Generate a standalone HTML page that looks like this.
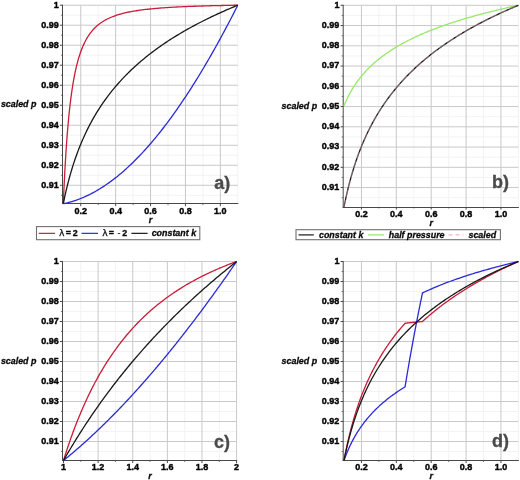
<!DOCTYPE html>
<html><head><meta charset="utf-8"><title>scaled p vs r</title>
<style>
html,body{margin:0;padding:0;background:#fff;}
body{width:520px;height:480px;overflow:hidden;}
svg{display:block;filter:blur(0.4px);}
text{font-family:"Liberation Sans",sans-serif;}
.tk{font-size:9.0px;font-weight:bold;fill:#050505;stroke:#050505;stroke-width:0.4px;}
.lb{font-size:8.9px;font-weight:bold;font-style:italic;fill:#0a0a0a;stroke:#0a0a0a;stroke-width:0.3px;}
.lg{font-size:8.9px;font-weight:bold;fill:#0a0a0a;stroke:#0a0a0a;stroke-width:0.3px;}
.pl{font-size:18px;font-weight:bold;fill:#4a4a4a;stroke:#4a4a4a;stroke-width:0.3px;}
.sym{font-family:"DejaVu Sans","Liberation Sans",sans-serif;font-weight:normal;font-size:9.2px;stroke-width:0.25px;}
.mn{font-weight:normal;stroke-width:0.1px;fill:#333;}
.it{font-style:italic;}
</style></head><body>
<svg width="520" height="480" viewBox="0 0 520 480">
<rect width="520" height="480" fill="#fff"/>
<line x1="98.20" y1="5.20" x2="98.20" y2="203.70" stroke="#f3f3f3" stroke-width="1"/>
<line x1="133.10" y1="5.20" x2="133.10" y2="203.70" stroke="#f3f3f3" stroke-width="1"/>
<line x1="168.00" y1="5.20" x2="168.00" y2="203.70" stroke="#f3f3f3" stroke-width="1"/>
<line x1="202.90" y1="5.20" x2="202.90" y2="203.70" stroke="#f3f3f3" stroke-width="1"/>
<line x1="237.80" y1="5.20" x2="237.80" y2="203.70" stroke="#f3f3f3" stroke-width="1"/>
<line x1="62.50" y1="195.30" x2="237.80" y2="195.30" stroke="#f3f3f3" stroke-width="1"/>
<line x1="62.50" y1="175.29" x2="237.80" y2="175.29" stroke="#f3f3f3" stroke-width="1"/>
<line x1="62.50" y1="155.28" x2="237.80" y2="155.28" stroke="#f3f3f3" stroke-width="1"/>
<line x1="62.50" y1="135.27" x2="237.80" y2="135.27" stroke="#f3f3f3" stroke-width="1"/>
<line x1="62.50" y1="115.26" x2="237.80" y2="115.26" stroke="#f3f3f3" stroke-width="1"/>
<line x1="62.50" y1="95.25" x2="237.80" y2="95.25" stroke="#f3f3f3" stroke-width="1"/>
<line x1="62.50" y1="75.24" x2="237.80" y2="75.24" stroke="#f3f3f3" stroke-width="1"/>
<line x1="62.50" y1="55.23" x2="237.80" y2="55.23" stroke="#f3f3f3" stroke-width="1"/>
<line x1="62.50" y1="35.22" x2="237.80" y2="35.22" stroke="#f3f3f3" stroke-width="1"/>
<line x1="62.50" y1="15.21" x2="237.80" y2="15.21" stroke="#f3f3f3" stroke-width="1"/>
<line x1="80.75" y1="5.20" x2="80.75" y2="203.70" stroke="#c9c9c9" stroke-width="1"/>
<line x1="115.65" y1="5.20" x2="115.65" y2="203.70" stroke="#c9c9c9" stroke-width="1"/>
<line x1="150.55" y1="5.20" x2="150.55" y2="203.70" stroke="#c9c9c9" stroke-width="1"/>
<line x1="185.45" y1="5.20" x2="185.45" y2="203.70" stroke="#c9c9c9" stroke-width="1"/>
<line x1="220.35" y1="5.20" x2="220.35" y2="203.70" stroke="#c9c9c9" stroke-width="1"/>
<line x1="62.50" y1="185.29" x2="237.80" y2="185.29" stroke="#c9c9c9" stroke-width="1"/>
<line x1="62.50" y1="165.28" x2="237.80" y2="165.28" stroke="#c9c9c9" stroke-width="1"/>
<line x1="62.50" y1="145.27" x2="237.80" y2="145.27" stroke="#c9c9c9" stroke-width="1"/>
<line x1="62.50" y1="125.26" x2="237.80" y2="125.26" stroke="#c9c9c9" stroke-width="1"/>
<line x1="62.50" y1="105.25" x2="237.80" y2="105.25" stroke="#c9c9c9" stroke-width="1"/>
<line x1="62.50" y1="85.24" x2="237.80" y2="85.24" stroke="#c9c9c9" stroke-width="1"/>
<line x1="62.50" y1="65.23" x2="237.80" y2="65.23" stroke="#c9c9c9" stroke-width="1"/>
<line x1="62.50" y1="45.22" x2="237.80" y2="45.22" stroke="#c9c9c9" stroke-width="1"/>
<line x1="62.50" y1="25.21" x2="237.80" y2="25.21" stroke="#c9c9c9" stroke-width="1"/>
<line x1="62.50" y1="5.20" x2="237.80" y2="5.20" stroke="#c9c9c9" stroke-width="1"/>
<line x1="62.50" y1="4.70" x2="62.50" y2="204.00" stroke="#484848" stroke-width="1"/>
<line x1="62.00" y1="203.50" x2="238.30" y2="203.50" stroke="#484848" stroke-width="1"/>
<line x1="59.90" y1="185.29" x2="62.50" y2="185.29" stroke="#484848" stroke-width="1"/>
<text x="58.70" y="187.59" text-anchor="end" class="tk">0.91</text>
<line x1="60.90" y1="195.30" x2="62.50" y2="195.30" stroke="#484848" stroke-width="0.7"/>
<line x1="59.90" y1="165.28" x2="62.50" y2="165.28" stroke="#484848" stroke-width="1"/>
<text x="58.70" y="167.58" text-anchor="end" class="tk">0.92</text>
<line x1="60.90" y1="175.29" x2="62.50" y2="175.29" stroke="#484848" stroke-width="0.7"/>
<line x1="59.90" y1="145.27" x2="62.50" y2="145.27" stroke="#484848" stroke-width="1"/>
<text x="58.70" y="147.57" text-anchor="end" class="tk">0.93</text>
<line x1="60.90" y1="155.28" x2="62.50" y2="155.28" stroke="#484848" stroke-width="0.7"/>
<line x1="59.90" y1="125.26" x2="62.50" y2="125.26" stroke="#484848" stroke-width="1"/>
<text x="58.70" y="127.56" text-anchor="end" class="tk">0.94</text>
<line x1="60.90" y1="135.27" x2="62.50" y2="135.27" stroke="#484848" stroke-width="0.7"/>
<line x1="59.90" y1="105.25" x2="62.50" y2="105.25" stroke="#484848" stroke-width="1"/>
<text x="58.70" y="107.55" text-anchor="end" class="tk">0.95</text>
<line x1="60.90" y1="115.26" x2="62.50" y2="115.26" stroke="#484848" stroke-width="0.7"/>
<line x1="59.90" y1="85.24" x2="62.50" y2="85.24" stroke="#484848" stroke-width="1"/>
<text x="58.70" y="87.54" text-anchor="end" class="tk">0.96</text>
<line x1="60.90" y1="95.25" x2="62.50" y2="95.25" stroke="#484848" stroke-width="0.7"/>
<line x1="59.90" y1="65.23" x2="62.50" y2="65.23" stroke="#484848" stroke-width="1"/>
<text x="58.70" y="67.53" text-anchor="end" class="tk">0.97</text>
<line x1="60.90" y1="75.24" x2="62.50" y2="75.24" stroke="#484848" stroke-width="0.7"/>
<line x1="59.90" y1="45.22" x2="62.50" y2="45.22" stroke="#484848" stroke-width="1"/>
<text x="58.70" y="47.52" text-anchor="end" class="tk">0.98</text>
<line x1="60.90" y1="55.23" x2="62.50" y2="55.23" stroke="#484848" stroke-width="0.7"/>
<line x1="59.90" y1="25.21" x2="62.50" y2="25.21" stroke="#484848" stroke-width="1"/>
<text x="58.70" y="27.51" text-anchor="end" class="tk">0.99</text>
<line x1="60.90" y1="35.22" x2="62.50" y2="35.22" stroke="#484848" stroke-width="0.7"/>
<line x1="59.90" y1="5.20" x2="62.50" y2="5.20" stroke="#484848" stroke-width="1"/>
<text x="58.70" y="7.50" text-anchor="end" class="tk">1</text>
<line x1="60.90" y1="15.21" x2="62.50" y2="15.21" stroke="#484848" stroke-width="0.7"/>
<line x1="80.75" y1="203.70" x2="80.75" y2="206.20" stroke="#484848" stroke-width="1"/>
<text x="80.75" y="213.50" text-anchor="middle" class="tk">0.2</text>
<line x1="115.65" y1="203.70" x2="115.65" y2="206.20" stroke="#484848" stroke-width="1"/>
<text x="115.65" y="213.50" text-anchor="middle" class="tk">0.4</text>
<line x1="150.55" y1="203.70" x2="150.55" y2="206.20" stroke="#484848" stroke-width="1"/>
<text x="150.55" y="213.50" text-anchor="middle" class="tk">0.6</text>
<line x1="185.45" y1="203.70" x2="185.45" y2="206.20" stroke="#484848" stroke-width="1"/>
<text x="185.45" y="213.50" text-anchor="middle" class="tk">0.8</text>
<line x1="220.35" y1="203.70" x2="220.35" y2="206.20" stroke="#484848" stroke-width="1"/>
<text x="220.35" y="213.50" text-anchor="middle" class="tk">1.0</text>
<line x1="98.20" y1="203.70" x2="98.20" y2="205.20" stroke="#484848" stroke-width="0.7"/>
<line x1="133.10" y1="203.70" x2="133.10" y2="205.20" stroke="#484848" stroke-width="0.7"/>
<line x1="168.00" y1="203.70" x2="168.00" y2="205.20" stroke="#484848" stroke-width="0.7"/>
<line x1="202.90" y1="203.70" x2="202.90" y2="205.20" stroke="#484848" stroke-width="0.7"/>
<text x="0.90" y="106.95" class="lb">scaled p</text>
<text x="150.55" y="222.70" text-anchor="middle" class="lb">r</text>
<text x="214.20" y="188.70" class="pl">a)</text>
<polyline points="63.30,203.70 63.78,192.66 64.27,182.25 64.77,172.45 65.26,163.64 65.29,163.21 65.82,154.50 66.36,146.28 66.92,138.52 67.22,134.64 67.50,131.21 68.09,124.30 68.70,117.78 69.18,112.93 69.32,111.62 69.96,105.80 70.62,100.30 71.14,96.25 71.30,95.11 71.99,90.20 72.70,85.56 73.10,83.13 73.44,81.18 74.19,77.03 74.96,73.11 75.06,72.63 75.76,69.41 76.58,65.90 77.02,64.10 77.42,62.58 78.28,59.45 78.99,57.06 79.16,56.48 80.07,53.67 80.95,51.18 81.01,51.01 81.97,48.50 82.91,46.23 82.95,46.12 83.97,43.87 84.87,42.02 85.01,41.74 86.08,39.72 86.83,38.40 87.18,37.81 88.31,36.00 88.79,35.27 89.46,34.29 90.66,32.67 90.75,32.55 91.88,31.14 92.71,30.16 93.14,29.68 94.43,28.31 94.67,28.06 95.75,27.01 96.63,26.20 97.12,25.77 98.52,24.60 98.59,24.54 99.96,23.50 100.55,23.06 101.43,22.45 102.51,21.74 102.95,21.46 104.47,20.54 104.51,20.52 106.11,19.63 106.43,19.46 107.76,18.79 108.40,18.48 109.45,17.99 110.36,17.59 111.19,17.23 112.32,16.77 112.97,16.52 114.28,16.03 114.80,15.84 116.24,15.34 116.69,15.20 118.20,14.72 118.62,14.59 120.16,14.14 120.61,14.01 122.12,13.60 122.65,13.47 124.08,13.11 124.38,13.04 124.75,12.95 126.04,12.65 126.90,12.46 128.00,12.22 129.11,11.99 129.96,11.83 131.39,11.55 131.92,11.46 133.72,11.14 133.88,11.11 135.84,10.79 136.12,10.74 137.81,10.49 138.59,10.37 139.77,10.20 141.12,10.02 141.73,9.93 141.82,9.92 143.69,9.68 143.72,9.68 145.65,9.45 146.40,9.36 147.61,9.23 149.14,9.06 149.57,9.02 151.53,8.82 151.96,8.78 153.49,8.63 154.86,8.51 155.45,8.45 157.41,8.28 157.84,8.25 159.37,8.12 160.90,8.01 161.33,7.97 163.29,7.83 164.04,7.78 165.26,7.69 167.22,7.56 167.26,7.56 169.18,7.44 170.58,7.35 171.14,7.32 173.10,7.21 173.99,7.16 175.06,7.10 177.02,7.00 177.49,6.97 178.98,6.90 180.94,6.80 181.08,6.80 182.90,6.71 184.77,6.63 184.86,6.63 186.82,6.54 188.57,6.47 188.78,6.46 190.74,6.39 192.46,6.32 192.70,6.31 194.67,6.24 196.47,6.18 196.63,6.18 198.59,6.11 200.55,6.05 200.58,6.05 202.51,5.99 204.47,5.93 204.81,5.92 206.43,5.87 208.39,5.82 209.15,5.80 210.35,5.77 212.31,5.72 213.61,5.69 214.27,5.67 216.23,5.62 218.19,5.58 218.19,5.58 220.15,5.53 222.11,5.49 222.90,5.48 224.08,5.45 226.04,5.41 227.73,5.38 228.00,5.37 229.96,5.34 231.92,5.30 232.70,5.29 233.88,5.27 235.84,5.23 237.80,5.20" fill="none" stroke="#c81c38" stroke-width="1.3" stroke-linejoin="round"/>
<polyline points="63.30,203.70 63.78,203.60 64.27,203.50 64.77,203.39 65.26,203.29 65.29,203.28 65.82,203.16 66.36,203.03 66.92,202.90 67.22,202.83 67.50,202.76 68.09,202.61 68.70,202.45 69.18,202.33 69.32,202.29 69.96,202.11 70.62,201.93 71.14,201.78 71.30,201.74 71.99,201.53 72.70,201.31 73.10,201.19 73.44,201.09 74.19,200.84 74.96,200.59 75.06,200.56 75.76,200.32 76.58,200.04 77.02,199.88 77.42,199.74 78.28,199.42 78.99,199.16 79.16,199.09 80.07,198.74 80.95,198.39 81.01,198.37 81.97,197.98 82.91,197.59 82.95,197.56 83.97,197.13 84.87,196.73 85.01,196.67 86.08,196.19 86.83,195.84 87.18,195.67 88.31,195.13 88.79,194.90 89.46,194.57 90.66,193.97 90.75,193.92 91.88,193.33 92.71,192.89 93.14,192.66 94.43,191.96 94.67,191.82 95.75,191.21 96.63,190.71 97.12,190.43 98.52,189.60 98.59,189.56 99.96,188.73 100.55,188.36 101.43,187.81 102.51,187.12 102.95,186.84 104.47,185.84 104.51,185.81 106.11,184.73 106.43,184.51 107.76,183.59 108.40,183.14 109.45,182.39 110.36,181.73 111.19,181.12 112.32,180.28 112.97,179.78 114.28,178.78 114.80,178.37 116.24,177.24 116.69,176.89 118.20,175.66 118.62,175.32 120.16,174.04 120.61,173.66 122.12,172.38 122.65,171.92 124.08,170.67 124.38,170.41 124.75,170.08 126.04,168.92 126.90,168.14 128.00,167.13 129.11,166.10 129.96,165.30 131.39,163.95 131.92,163.43 133.72,161.68 133.88,161.52 135.84,159.57 136.12,159.29 137.81,157.57 138.59,156.76 139.77,155.54 141.12,154.11 141.73,153.46 141.82,153.35 143.69,151.34 143.72,151.30 145.65,149.19 146.40,148.35 147.61,146.99 149.14,145.24 149.57,144.75 151.53,142.47 151.96,141.97 153.49,140.16 154.86,138.52 155.45,137.80 157.41,135.40 157.84,134.88 159.37,132.97 160.90,131.05 161.33,130.49 163.29,127.98 164.04,127.02 165.26,125.43 167.22,122.84 167.26,122.77 169.18,120.21 170.58,118.30 171.14,117.54 173.10,114.83 173.99,113.59 175.06,112.09 177.02,109.30 177.49,108.64 178.98,106.48 180.94,103.63 181.08,103.42 182.90,100.73 184.77,97.93 184.86,97.80 186.82,94.83 188.57,92.16 188.78,91.82 190.74,88.78 192.46,86.08 192.70,85.70 194.67,82.59 196.47,79.69 196.63,79.43 198.59,76.25 200.55,73.02 200.58,72.96 202.51,69.76 204.47,66.47 204.81,65.89 206.43,63.14 208.39,59.77 209.15,58.46 210.35,56.37 212.31,52.93 213.61,50.64 214.27,49.47 216.23,45.96 218.19,42.43 218.19,42.42 220.15,38.85 222.11,35.24 222.90,33.80 224.08,31.60 226.04,27.93 227.73,24.73 228.00,24.22 229.96,20.49 231.92,16.71 232.70,15.20 233.88,12.91 235.84,9.07 237.80,5.20" fill="none" stroke="#2a2ad8" stroke-width="1.3" stroke-linejoin="round"/>
<polyline points="63.30,203.70 63.78,201.35 64.27,199.00 64.77,196.65 65.26,194.42 65.29,194.31 65.82,191.97 66.36,189.64 66.92,187.30 67.22,186.08 67.50,184.97 68.09,182.64 68.70,180.32 69.18,178.51 69.32,178.00 69.96,175.68 70.62,173.36 71.14,171.57 71.30,171.05 71.99,168.74 72.70,166.43 73.10,165.17 73.44,164.13 74.19,161.83 74.96,159.53 75.06,159.24 75.76,157.24 76.58,154.94 77.02,153.71 77.42,152.65 78.28,150.37 78.99,148.54 79.16,148.08 80.07,145.80 80.95,143.67 81.01,143.52 81.97,141.25 82.91,139.08 82.95,138.97 83.97,136.70 84.87,134.74 85.01,134.44 86.08,132.17 86.83,130.62 87.18,129.91 88.31,127.65 88.79,126.70 89.46,125.39 90.66,123.14 90.75,122.97 91.88,120.89 92.71,119.40 93.14,118.64 94.43,116.39 94.67,115.98 95.75,114.15 96.63,112.70 97.12,111.91 98.52,109.67 98.59,109.56 99.96,107.44 100.55,106.53 101.43,105.21 102.51,103.61 102.95,102.98 104.47,100.80 104.51,100.75 106.11,98.52 106.43,98.08 107.76,96.30 108.40,95.46 109.45,94.08 110.36,92.92 111.19,91.87 112.32,90.45 112.97,89.65 114.28,88.07 114.80,87.44 116.24,85.75 116.69,85.23 118.20,83.50 118.62,83.02 120.16,81.31 120.61,80.82 122.12,79.18 122.65,78.62 124.08,77.11 124.38,76.80 124.75,76.42 126.04,75.09 126.90,74.22 128.00,73.12 129.11,72.03 129.96,71.20 131.39,69.84 131.92,69.33 133.72,67.65 133.88,67.50 135.84,65.71 136.12,65.46 137.81,63.96 138.59,63.27 139.77,62.25 141.12,61.09 141.73,60.58 141.82,60.50 143.69,58.94 143.72,58.91 145.65,57.34 146.40,56.74 147.61,55.77 149.14,54.56 149.57,54.23 151.53,52.72 151.96,52.39 153.49,51.24 154.86,50.22 155.45,49.78 157.41,48.36 157.84,48.05 159.37,46.96 160.90,45.89 161.33,45.58 163.29,44.23 164.04,43.73 165.26,42.90 167.22,41.60 167.26,41.57 169.18,40.31 170.58,39.41 171.14,39.05 173.10,37.81 173.99,37.25 175.06,36.59 177.02,35.38 177.49,35.10 178.98,34.20 180.94,33.03 181.08,32.95 182.90,31.88 184.77,30.80 184.86,30.75 186.82,29.63 188.57,28.65 188.78,28.53 190.74,27.45 192.46,26.51 192.70,26.38 194.67,25.33 196.47,24.37 196.63,24.29 198.59,23.26 200.55,22.25 200.58,22.23 202.51,21.25 204.47,20.26 204.81,20.09 206.43,19.29 208.39,18.33 209.15,17.96 210.35,17.38 212.31,16.44 213.61,15.83 214.27,15.51 216.23,14.60 218.19,13.70 218.19,13.70 220.15,12.80 222.11,11.92 222.90,11.57 224.08,11.05 226.04,10.18 227.73,9.44 228.00,9.33 229.96,8.48 231.92,7.65 232.70,7.32 233.88,6.82 235.84,6.01 237.80,5.20" fill="none" stroke="#181818" stroke-width="1.3" stroke-linejoin="round"/>
<line x1="378.88" y1="5.30" x2="378.88" y2="207.00" stroke="#f3f3f3" stroke-width="1"/>
<line x1="413.76" y1="5.30" x2="413.76" y2="207.00" stroke="#f3f3f3" stroke-width="1"/>
<line x1="448.64" y1="5.30" x2="448.64" y2="207.00" stroke="#f3f3f3" stroke-width="1"/>
<line x1="483.52" y1="5.30" x2="483.52" y2="207.00" stroke="#f3f3f3" stroke-width="1"/>
<line x1="518.40" y1="5.30" x2="518.40" y2="207.00" stroke="#f3f3f3" stroke-width="1"/>
<line x1="343.20" y1="197.68" x2="518.40" y2="197.68" stroke="#f3f3f3" stroke-width="1"/>
<line x1="343.20" y1="177.43" x2="518.40" y2="177.43" stroke="#f3f3f3" stroke-width="1"/>
<line x1="343.20" y1="157.18" x2="518.40" y2="157.18" stroke="#f3f3f3" stroke-width="1"/>
<line x1="343.20" y1="136.93" x2="518.40" y2="136.93" stroke="#f3f3f3" stroke-width="1"/>
<line x1="343.20" y1="116.68" x2="518.40" y2="116.68" stroke="#f3f3f3" stroke-width="1"/>
<line x1="343.20" y1="96.43" x2="518.40" y2="96.43" stroke="#f3f3f3" stroke-width="1"/>
<line x1="343.20" y1="76.18" x2="518.40" y2="76.18" stroke="#f3f3f3" stroke-width="1"/>
<line x1="343.20" y1="55.93" x2="518.40" y2="55.93" stroke="#f3f3f3" stroke-width="1"/>
<line x1="343.20" y1="35.68" x2="518.40" y2="35.68" stroke="#f3f3f3" stroke-width="1"/>
<line x1="343.20" y1="15.43" x2="518.40" y2="15.43" stroke="#f3f3f3" stroke-width="1"/>
<line x1="361.44" y1="5.30" x2="361.44" y2="207.00" stroke="#c9c9c9" stroke-width="1"/>
<line x1="396.32" y1="5.30" x2="396.32" y2="207.00" stroke="#c9c9c9" stroke-width="1"/>
<line x1="431.20" y1="5.30" x2="431.20" y2="207.00" stroke="#c9c9c9" stroke-width="1"/>
<line x1="466.08" y1="5.30" x2="466.08" y2="207.00" stroke="#c9c9c9" stroke-width="1"/>
<line x1="500.96" y1="5.30" x2="500.96" y2="207.00" stroke="#c9c9c9" stroke-width="1"/>
<line x1="343.20" y1="187.56" x2="518.40" y2="187.56" stroke="#c9c9c9" stroke-width="1"/>
<line x1="343.20" y1="167.31" x2="518.40" y2="167.31" stroke="#c9c9c9" stroke-width="1"/>
<line x1="343.20" y1="147.06" x2="518.40" y2="147.06" stroke="#c9c9c9" stroke-width="1"/>
<line x1="343.20" y1="126.81" x2="518.40" y2="126.81" stroke="#c9c9c9" stroke-width="1"/>
<line x1="343.20" y1="106.56" x2="518.40" y2="106.56" stroke="#c9c9c9" stroke-width="1"/>
<line x1="343.20" y1="86.30" x2="518.40" y2="86.30" stroke="#c9c9c9" stroke-width="1"/>
<line x1="343.20" y1="66.05" x2="518.40" y2="66.05" stroke="#c9c9c9" stroke-width="1"/>
<line x1="343.20" y1="45.80" x2="518.40" y2="45.80" stroke="#c9c9c9" stroke-width="1"/>
<line x1="343.20" y1="25.55" x2="518.40" y2="25.55" stroke="#c9c9c9" stroke-width="1"/>
<line x1="343.20" y1="5.30" x2="518.40" y2="5.30" stroke="#c9c9c9" stroke-width="1"/>
<line x1="343.20" y1="4.80" x2="343.20" y2="208.00" stroke="#484848" stroke-width="1"/>
<line x1="342.70" y1="207.50" x2="518.90" y2="207.50" stroke="#484848" stroke-width="1"/>
<line x1="340.60" y1="187.56" x2="343.20" y2="187.56" stroke="#484848" stroke-width="1"/>
<text x="339.40" y="189.86" text-anchor="end" class="tk">0.91</text>
<line x1="341.60" y1="197.68" x2="343.20" y2="197.68" stroke="#484848" stroke-width="0.7"/>
<line x1="340.60" y1="167.31" x2="343.20" y2="167.31" stroke="#484848" stroke-width="1"/>
<text x="339.40" y="169.61" text-anchor="end" class="tk">0.92</text>
<line x1="341.60" y1="177.43" x2="343.20" y2="177.43" stroke="#484848" stroke-width="0.7"/>
<line x1="340.60" y1="147.06" x2="343.20" y2="147.06" stroke="#484848" stroke-width="1"/>
<text x="339.40" y="149.36" text-anchor="end" class="tk">0.93</text>
<line x1="341.60" y1="157.18" x2="343.20" y2="157.18" stroke="#484848" stroke-width="0.7"/>
<line x1="340.60" y1="126.81" x2="343.20" y2="126.81" stroke="#484848" stroke-width="1"/>
<text x="339.40" y="129.11" text-anchor="end" class="tk">0.94</text>
<line x1="341.60" y1="136.93" x2="343.20" y2="136.93" stroke="#484848" stroke-width="0.7"/>
<line x1="340.60" y1="106.56" x2="343.20" y2="106.56" stroke="#484848" stroke-width="1"/>
<text x="339.40" y="108.86" text-anchor="end" class="tk">0.95</text>
<line x1="341.60" y1="116.68" x2="343.20" y2="116.68" stroke="#484848" stroke-width="0.7"/>
<line x1="340.60" y1="86.30" x2="343.20" y2="86.30" stroke="#484848" stroke-width="1"/>
<text x="339.40" y="88.60" text-anchor="end" class="tk">0.96</text>
<line x1="341.60" y1="96.43" x2="343.20" y2="96.43" stroke="#484848" stroke-width="0.7"/>
<line x1="340.60" y1="66.05" x2="343.20" y2="66.05" stroke="#484848" stroke-width="1"/>
<text x="339.40" y="68.35" text-anchor="end" class="tk">0.97</text>
<line x1="341.60" y1="76.18" x2="343.20" y2="76.18" stroke="#484848" stroke-width="0.7"/>
<line x1="340.60" y1="45.80" x2="343.20" y2="45.80" stroke="#484848" stroke-width="1"/>
<text x="339.40" y="48.10" text-anchor="end" class="tk">0.98</text>
<line x1="341.60" y1="55.93" x2="343.20" y2="55.93" stroke="#484848" stroke-width="0.7"/>
<line x1="340.60" y1="25.55" x2="343.20" y2="25.55" stroke="#484848" stroke-width="1"/>
<text x="339.40" y="27.85" text-anchor="end" class="tk">0.99</text>
<line x1="341.60" y1="35.68" x2="343.20" y2="35.68" stroke="#484848" stroke-width="0.7"/>
<line x1="340.60" y1="5.30" x2="343.20" y2="5.30" stroke="#484848" stroke-width="1"/>
<text x="339.40" y="7.60" text-anchor="end" class="tk">1</text>
<line x1="341.60" y1="15.43" x2="343.20" y2="15.43" stroke="#484848" stroke-width="0.7"/>
<line x1="361.44" y1="207.00" x2="361.44" y2="209.50" stroke="#484848" stroke-width="1"/>
<text x="361.44" y="216.80" text-anchor="middle" class="tk">0.2</text>
<line x1="396.32" y1="207.00" x2="396.32" y2="209.50" stroke="#484848" stroke-width="1"/>
<text x="396.32" y="216.80" text-anchor="middle" class="tk">0.4</text>
<line x1="431.20" y1="207.00" x2="431.20" y2="209.50" stroke="#484848" stroke-width="1"/>
<text x="431.20" y="216.80" text-anchor="middle" class="tk">0.6</text>
<line x1="466.08" y1="207.00" x2="466.08" y2="209.50" stroke="#484848" stroke-width="1"/>
<text x="466.08" y="216.80" text-anchor="middle" class="tk">0.8</text>
<line x1="500.96" y1="207.00" x2="500.96" y2="209.50" stroke="#484848" stroke-width="1"/>
<text x="500.96" y="216.80" text-anchor="middle" class="tk">1.0</text>
<line x1="378.88" y1="207.00" x2="378.88" y2="208.50" stroke="#484848" stroke-width="0.7"/>
<line x1="413.76" y1="207.00" x2="413.76" y2="208.50" stroke="#484848" stroke-width="0.7"/>
<line x1="448.64" y1="207.00" x2="448.64" y2="208.50" stroke="#484848" stroke-width="0.7"/>
<line x1="483.52" y1="207.00" x2="483.52" y2="208.50" stroke="#484848" stroke-width="0.7"/>
<text x="281.60" y="108.65" class="lb">scaled p</text>
<text x="431.20" y="225.60" text-anchor="middle" class="lb">r</text>
<text x="491.90" y="188.40" class="pl">b)</text>
<polyline points="344.00,105.74 344.48,104.59 344.97,103.43 345.47,102.27 345.96,101.17 345.98,101.12 346.51,99.96 347.06,98.81 347.62,97.66 347.92,97.05 348.19,96.50 348.79,95.35 349.39,94.20 349.88,93.30 350.02,93.05 350.66,91.90 351.31,90.75 351.84,89.86 351.99,89.60 352.69,88.45 353.40,87.30 353.80,86.68 354.13,86.16 354.88,85.01 355.66,83.87 355.76,83.72 356.45,82.72 357.27,81.58 357.72,80.96 358.11,80.43 358.97,79.29 359.68,78.38 359.85,78.15 360.76,77.01 361.64,75.94 361.70,75.87 362.66,74.73 363.60,73.64 363.64,73.59 364.66,72.45 365.56,71.46 365.70,71.31 366.76,70.17 367.51,69.39 367.86,69.04 368.99,67.90 369.47,67.42 370.15,66.77 371.34,65.63 371.43,65.54 372.56,64.50 373.39,63.74 373.82,63.36 375.11,62.23 375.35,62.02 376.44,61.10 377.31,60.37 377.80,59.97 379.20,58.84 379.27,58.78 380.63,57.71 381.23,57.25 382.11,56.58 383.19,55.77 383.63,55.45 385.15,54.35 385.19,54.32 386.79,53.19 387.11,52.97 388.43,52.07 389.07,51.64 390.12,50.94 391.03,50.35 391.86,49.81 392.99,49.10 393.64,48.69 394.95,47.88 395.47,47.56 396.91,46.70 397.35,46.44 398.87,45.56 399.29,45.32 400.83,44.44 401.27,44.19 402.79,43.36 403.31,43.07 404.75,42.30 405.04,42.15 405.41,41.95 406.71,41.27 407.56,40.83 408.67,40.27 409.78,39.71 410.62,39.29 412.05,38.59 412.58,38.33 414.38,37.47 414.54,37.40 416.50,36.48 416.78,36.36 418.46,35.59 419.25,35.24 420.42,34.71 421.78,34.12 422.38,33.86 422.48,33.82 424.34,33.02 424.38,33.00 426.30,32.20 427.05,31.89 428.26,31.39 429.79,30.77 430.22,30.60 432.18,29.83 432.61,29.66 434.14,29.07 435.51,28.55 436.10,28.32 438.06,27.59 438.48,27.43 440.02,26.87 441.54,26.32 441.98,26.16 443.94,25.47 444.68,25.21 445.90,24.79 447.86,24.11 447.90,24.10 449.82,23.45 451.22,22.99 451.78,22.80 453.73,22.16 454.62,21.88 455.69,21.53 457.65,20.91 458.12,20.77 459.61,20.30 461.57,19.70 461.71,19.66 463.53,19.11 465.40,18.55 465.49,18.52 467.45,17.95 469.20,17.44 469.41,17.38 471.37,16.82 473.09,16.34 473.33,16.27 475.29,15.72 477.09,15.23 477.25,15.19 479.21,14.66 481.17,14.13 481.20,14.12 483.13,13.62 485.09,13.11 485.43,13.02 487.05,12.60 489.01,12.11 489.76,11.91 490.97,11.61 492.93,11.13 494.22,10.81 494.89,10.65 496.84,10.17 498.80,9.71 498.80,9.71 500.76,9.24 502.72,8.79 503.50,8.60 504.68,8.33 506.64,7.89 508.34,7.50 508.60,7.44 510.56,7.00 512.52,6.57 513.30,6.40 514.48,6.14 516.44,5.72 518.40,5.30" fill="none" stroke="#98e868" stroke-width="1.3" stroke-linejoin="round"/>
<polyline points="344.00,207.00 344.48,204.61 344.97,202.22 345.47,199.84 345.96,197.57 345.98,197.46 346.51,195.08 347.06,192.71 347.62,190.33 347.92,189.09 348.19,187.97 348.79,185.60 349.39,183.24 349.88,181.39 350.02,180.88 350.66,178.52 351.31,176.17 351.84,174.34 351.99,173.82 352.69,171.47 353.40,169.13 353.80,167.84 354.13,166.79 354.88,164.45 355.66,162.11 355.76,161.82 356.45,159.78 357.27,157.45 357.72,156.20 358.11,155.12 358.97,152.80 359.68,150.94 359.85,150.48 360.76,148.16 361.64,145.99 361.70,145.84 362.66,143.53 363.60,141.33 363.64,141.22 364.66,138.91 365.56,136.92 365.70,136.61 366.76,134.31 367.51,132.73 367.86,132.01 368.99,129.71 369.47,128.75 370.15,127.42 371.34,125.13 371.43,124.95 372.56,122.84 373.39,121.33 373.82,120.56 375.11,118.28 375.35,117.85 376.44,116.00 377.31,114.52 377.80,113.72 379.20,111.45 379.27,111.33 380.63,109.18 381.23,108.25 382.11,106.91 383.19,105.29 383.63,104.64 385.15,102.43 385.19,102.38 386.79,100.12 387.11,99.67 388.43,97.86 389.07,97.00 390.12,95.60 391.03,94.42 391.86,93.35 392.99,91.92 393.64,91.10 394.95,89.49 395.47,88.85 396.91,87.14 397.35,86.61 398.87,84.85 399.29,84.37 400.83,82.63 401.27,82.13 402.79,80.46 403.31,79.89 404.75,78.36 405.04,78.05 405.41,77.66 406.71,76.31 407.56,75.42 408.67,74.31 409.78,73.19 410.62,72.36 412.05,70.97 412.58,70.45 414.38,68.74 414.54,68.59 416.50,66.78 416.78,66.52 418.46,65.00 419.25,64.30 420.42,63.26 421.78,62.09 422.38,61.56 422.48,61.48 424.34,59.90 424.38,59.87 426.30,58.27 427.05,57.66 428.26,56.68 429.79,55.45 430.22,55.11 432.18,53.58 432.61,53.24 434.14,52.07 435.51,51.04 436.10,50.60 438.06,49.15 438.48,48.84 440.02,47.72 441.54,46.64 441.98,46.33 443.94,44.95 444.68,44.44 445.90,43.60 447.86,42.28 447.90,42.25 449.82,40.97 451.22,40.05 451.78,39.69 453.73,38.43 454.62,37.86 455.69,37.19 457.65,35.96 458.12,35.68 459.61,34.76 461.57,33.57 461.71,33.49 463.53,32.41 465.40,31.31 465.49,31.26 467.45,30.12 469.20,29.13 469.41,29.01 471.37,27.90 473.09,26.95 473.33,26.82 475.29,25.75 477.09,24.77 477.25,24.69 479.21,23.65 481.17,22.62 481.20,22.60 483.13,21.60 485.09,20.60 485.43,20.43 487.05,19.61 489.01,18.64 489.76,18.26 490.97,17.67 492.93,16.72 494.22,16.10 494.89,15.78 496.84,14.85 498.80,13.93 498.80,13.93 500.76,13.02 502.72,12.13 503.50,11.77 504.68,11.24 506.64,10.36 508.34,9.61 508.60,9.49 510.56,8.64 512.52,7.79 513.30,7.45 514.48,6.95 516.44,6.12 518.40,5.30" fill="none" stroke="#181818" stroke-width="1.3" stroke-linejoin="round"/>
<polyline points="344.00,207.00 344.48,204.61 344.97,202.22 345.47,199.84 345.96,197.57 345.98,197.46 346.51,195.08 347.06,192.71 347.62,190.33 347.92,189.09 348.19,187.97 348.79,185.60 349.39,183.24 349.88,181.39 350.02,180.88 350.66,178.52 351.31,176.17 351.84,174.34 351.99,173.82 352.69,171.47 353.40,169.13 353.80,167.84 354.13,166.79 354.88,164.45 355.66,162.11 355.76,161.82 356.45,159.78 357.27,157.45 357.72,156.20 358.11,155.12 358.97,152.80 359.68,150.94 359.85,150.48 360.76,148.16 361.64,145.99 361.70,145.84 362.66,143.53 363.60,141.33 363.64,141.22 364.66,138.91 365.56,136.92 365.70,136.61 366.76,134.31 367.51,132.73 367.86,132.01 368.99,129.71 369.47,128.75 370.15,127.42 371.34,125.13 371.43,124.95 372.56,122.84 373.39,121.33 373.82,120.56 375.11,118.28 375.35,117.85 376.44,116.00 377.31,114.52 377.80,113.72 379.20,111.45 379.27,111.33 380.63,109.18 381.23,108.25 382.11,106.91 383.19,105.29 383.63,104.64 385.15,102.43 385.19,102.38 386.79,100.12 387.11,99.67 388.43,97.86 389.07,97.00 390.12,95.60 391.03,94.42 391.86,93.35 392.99,91.92 393.64,91.10 394.95,89.49 395.47,88.85 396.91,87.14 397.35,86.61 398.87,84.85 399.29,84.37 400.83,82.63 401.27,82.13 402.79,80.46 403.31,79.89 404.75,78.36 405.04,78.05 405.41,77.66 406.71,76.31 407.56,75.42 408.67,74.31 409.78,73.19 410.62,72.36 412.05,70.97 412.58,70.45 414.38,68.74 414.54,68.59 416.50,66.78 416.78,66.52 418.46,65.00 419.25,64.30 420.42,63.26 421.78,62.09 422.38,61.56 422.48,61.48 424.34,59.90 424.38,59.87 426.30,58.27 427.05,57.66 428.26,56.68 429.79,55.45 430.22,55.11 432.18,53.58 432.61,53.24 434.14,52.07 435.51,51.04 436.10,50.60 438.06,49.15 438.48,48.84 440.02,47.72 441.54,46.64 441.98,46.33 443.94,44.95 444.68,44.44 445.90,43.60 447.86,42.28 447.90,42.25 449.82,40.97 451.22,40.05 451.78,39.69 453.73,38.43 454.62,37.86 455.69,37.19 457.65,35.96 458.12,35.68 459.61,34.76 461.57,33.57 461.71,33.49 463.53,32.41 465.40,31.31 465.49,31.26 467.45,30.12 469.20,29.13 469.41,29.01 471.37,27.90 473.09,26.95 473.33,26.82 475.29,25.75 477.09,24.77 477.25,24.69 479.21,23.65 481.17,22.62 481.20,22.60 483.13,21.60 485.09,20.60 485.43,20.43 487.05,19.61 489.01,18.64 489.76,18.26 490.97,17.67 492.93,16.72 494.22,16.10 494.89,15.78 496.84,14.85 498.80,13.93 498.80,13.93 500.76,13.02 502.72,12.13 503.50,11.77 504.68,11.24 506.64,10.36 508.34,9.61 508.60,9.49 510.56,8.64 512.52,7.79 513.30,7.45 514.48,6.95 516.44,6.12 518.40,5.30" fill="none" stroke="#f2b8c6" stroke-width="1.3" stroke-linejoin="round" stroke-dasharray="7.4 2.6" stroke-opacity="0.4"/>
<line x1="80.81" y1="261.50" x2="80.81" y2="460.50" stroke="#f3f3f3" stroke-width="1"/>
<line x1="115.43" y1="261.50" x2="115.43" y2="460.50" stroke="#f3f3f3" stroke-width="1"/>
<line x1="150.05" y1="261.50" x2="150.05" y2="460.50" stroke="#f3f3f3" stroke-width="1"/>
<line x1="184.67" y1="261.50" x2="184.67" y2="460.50" stroke="#f3f3f3" stroke-width="1"/>
<line x1="219.29" y1="261.50" x2="219.29" y2="460.50" stroke="#f3f3f3" stroke-width="1"/>
<line x1="62.50" y1="451.50" x2="236.60" y2="451.50" stroke="#f3f3f3" stroke-width="1"/>
<line x1="62.50" y1="431.50" x2="236.60" y2="431.50" stroke="#f3f3f3" stroke-width="1"/>
<line x1="62.50" y1="411.50" x2="236.60" y2="411.50" stroke="#f3f3f3" stroke-width="1"/>
<line x1="62.50" y1="391.50" x2="236.60" y2="391.50" stroke="#f3f3f3" stroke-width="1"/>
<line x1="62.50" y1="371.50" x2="236.60" y2="371.50" stroke="#f3f3f3" stroke-width="1"/>
<line x1="62.50" y1="351.50" x2="236.60" y2="351.50" stroke="#f3f3f3" stroke-width="1"/>
<line x1="62.50" y1="331.50" x2="236.60" y2="331.50" stroke="#f3f3f3" stroke-width="1"/>
<line x1="62.50" y1="311.50" x2="236.60" y2="311.50" stroke="#f3f3f3" stroke-width="1"/>
<line x1="62.50" y1="291.50" x2="236.60" y2="291.50" stroke="#f3f3f3" stroke-width="1"/>
<line x1="62.50" y1="271.50" x2="236.60" y2="271.50" stroke="#f3f3f3" stroke-width="1"/>
<line x1="98.12" y1="261.50" x2="98.12" y2="460.50" stroke="#c9c9c9" stroke-width="1"/>
<line x1="132.74" y1="261.50" x2="132.74" y2="460.50" stroke="#c9c9c9" stroke-width="1"/>
<line x1="167.36" y1="261.50" x2="167.36" y2="460.50" stroke="#c9c9c9" stroke-width="1"/>
<line x1="201.98" y1="261.50" x2="201.98" y2="460.50" stroke="#c9c9c9" stroke-width="1"/>
<line x1="236.60" y1="261.50" x2="236.60" y2="460.50" stroke="#c9c9c9" stroke-width="1"/>
<line x1="62.50" y1="441.50" x2="236.60" y2="441.50" stroke="#c9c9c9" stroke-width="1"/>
<line x1="62.50" y1="421.50" x2="236.60" y2="421.50" stroke="#c9c9c9" stroke-width="1"/>
<line x1="62.50" y1="401.50" x2="236.60" y2="401.50" stroke="#c9c9c9" stroke-width="1"/>
<line x1="62.50" y1="381.50" x2="236.60" y2="381.50" stroke="#c9c9c9" stroke-width="1"/>
<line x1="62.50" y1="361.50" x2="236.60" y2="361.50" stroke="#c9c9c9" stroke-width="1"/>
<line x1="62.50" y1="341.50" x2="236.60" y2="341.50" stroke="#c9c9c9" stroke-width="1"/>
<line x1="62.50" y1="321.50" x2="236.60" y2="321.50" stroke="#c9c9c9" stroke-width="1"/>
<line x1="62.50" y1="301.50" x2="236.60" y2="301.50" stroke="#c9c9c9" stroke-width="1"/>
<line x1="62.50" y1="281.50" x2="236.60" y2="281.50" stroke="#c9c9c9" stroke-width="1"/>
<line x1="62.50" y1="261.50" x2="236.60" y2="261.50" stroke="#c9c9c9" stroke-width="1"/>
<line x1="62.50" y1="261.00" x2="62.50" y2="461.00" stroke="#484848" stroke-width="1"/>
<line x1="62.00" y1="460.50" x2="237.10" y2="460.50" stroke="#484848" stroke-width="1"/>
<line x1="59.90" y1="441.50" x2="62.50" y2="441.50" stroke="#484848" stroke-width="1"/>
<text x="58.70" y="443.80" text-anchor="end" class="tk">0.91</text>
<line x1="60.90" y1="451.50" x2="62.50" y2="451.50" stroke="#484848" stroke-width="0.7"/>
<line x1="59.90" y1="421.50" x2="62.50" y2="421.50" stroke="#484848" stroke-width="1"/>
<text x="58.70" y="423.80" text-anchor="end" class="tk">0.92</text>
<line x1="60.90" y1="431.50" x2="62.50" y2="431.50" stroke="#484848" stroke-width="0.7"/>
<line x1="59.90" y1="401.50" x2="62.50" y2="401.50" stroke="#484848" stroke-width="1"/>
<text x="58.70" y="403.80" text-anchor="end" class="tk">0.93</text>
<line x1="60.90" y1="411.50" x2="62.50" y2="411.50" stroke="#484848" stroke-width="0.7"/>
<line x1="59.90" y1="381.50" x2="62.50" y2="381.50" stroke="#484848" stroke-width="1"/>
<text x="58.70" y="383.80" text-anchor="end" class="tk">0.94</text>
<line x1="60.90" y1="391.50" x2="62.50" y2="391.50" stroke="#484848" stroke-width="0.7"/>
<line x1="59.90" y1="361.50" x2="62.50" y2="361.50" stroke="#484848" stroke-width="1"/>
<text x="58.70" y="363.80" text-anchor="end" class="tk">0.95</text>
<line x1="60.90" y1="371.50" x2="62.50" y2="371.50" stroke="#484848" stroke-width="0.7"/>
<line x1="59.90" y1="341.50" x2="62.50" y2="341.50" stroke="#484848" stroke-width="1"/>
<text x="58.70" y="343.80" text-anchor="end" class="tk">0.96</text>
<line x1="60.90" y1="351.50" x2="62.50" y2="351.50" stroke="#484848" stroke-width="0.7"/>
<line x1="59.90" y1="321.50" x2="62.50" y2="321.50" stroke="#484848" stroke-width="1"/>
<text x="58.70" y="323.80" text-anchor="end" class="tk">0.97</text>
<line x1="60.90" y1="331.50" x2="62.50" y2="331.50" stroke="#484848" stroke-width="0.7"/>
<line x1="59.90" y1="301.50" x2="62.50" y2="301.50" stroke="#484848" stroke-width="1"/>
<text x="58.70" y="303.80" text-anchor="end" class="tk">0.98</text>
<line x1="60.90" y1="311.50" x2="62.50" y2="311.50" stroke="#484848" stroke-width="0.7"/>
<line x1="59.90" y1="281.50" x2="62.50" y2="281.50" stroke="#484848" stroke-width="1"/>
<text x="58.70" y="283.80" text-anchor="end" class="tk">0.99</text>
<line x1="60.90" y1="291.50" x2="62.50" y2="291.50" stroke="#484848" stroke-width="0.7"/>
<line x1="59.90" y1="261.50" x2="62.50" y2="261.50" stroke="#484848" stroke-width="1"/>
<text x="58.70" y="263.80" text-anchor="end" class="tk">1</text>
<line x1="60.90" y1="271.50" x2="62.50" y2="271.50" stroke="#484848" stroke-width="0.7"/>
<line x1="63.50" y1="460.50" x2="63.50" y2="463.00" stroke="#484848" stroke-width="1"/>
<text x="63.50" y="470.30" text-anchor="middle" class="tk">1</text>
<line x1="98.12" y1="460.50" x2="98.12" y2="463.00" stroke="#484848" stroke-width="1"/>
<text x="98.12" y="470.30" text-anchor="middle" class="tk">1.2</text>
<line x1="132.74" y1="460.50" x2="132.74" y2="463.00" stroke="#484848" stroke-width="1"/>
<text x="132.74" y="470.30" text-anchor="middle" class="tk">1.4</text>
<line x1="167.36" y1="460.50" x2="167.36" y2="463.00" stroke="#484848" stroke-width="1"/>
<text x="167.36" y="470.30" text-anchor="middle" class="tk">1.6</text>
<line x1="201.98" y1="460.50" x2="201.98" y2="463.00" stroke="#484848" stroke-width="1"/>
<text x="201.98" y="470.30" text-anchor="middle" class="tk">1.8</text>
<line x1="236.60" y1="460.50" x2="236.60" y2="463.00" stroke="#484848" stroke-width="1"/>
<text x="236.60" y="470.30" text-anchor="middle" class="tk">2</text>
<line x1="80.81" y1="460.50" x2="80.81" y2="462.00" stroke="#484848" stroke-width="0.7"/>
<line x1="115.43" y1="460.50" x2="115.43" y2="462.00" stroke="#484848" stroke-width="0.7"/>
<line x1="150.05" y1="460.50" x2="150.05" y2="462.00" stroke="#484848" stroke-width="0.7"/>
<line x1="184.67" y1="460.50" x2="184.67" y2="462.00" stroke="#484848" stroke-width="0.7"/>
<line x1="219.29" y1="460.50" x2="219.29" y2="462.00" stroke="#484848" stroke-width="0.7"/>
<text x="0.90" y="363.50" class="lb">scaled p</text>
<text x="150.05" y="478.70" text-anchor="middle" class="lb">r</text>
<text x="214.10" y="447.50" class="pl">c)</text>
<polyline points="63.50,460.50 64.85,456.18 65.44,454.32 66.22,451.93 67.39,448.37 67.59,447.76 68.98,443.67 69.33,442.63 70.37,439.64 71.28,437.08 71.78,435.69 73.20,431.81 73.22,431.74 74.63,427.99 75.17,426.57 76.07,424.24 77.11,421.58 77.52,420.56 78.98,416.94 79.06,416.75 80.46,413.38 81.00,412.09 81.94,409.89 82.95,407.57 83.44,406.45 84.89,403.20 84.95,403.08 86.47,399.76 86.84,398.97 88.00,396.50 88.78,394.87 89.55,393.30 90.73,390.90 91.11,390.15 92.67,387.06 92.68,387.05 94.26,384.01 94.62,383.32 95.85,381.02 96.56,379.71 97.46,378.08 98.51,376.19 99.08,375.19 100.45,372.79 100.71,372.35 102.35,369.56 102.40,369.48 104.01,366.81 104.34,366.26 105.68,364.11 106.29,363.14 107.36,361.46 108.23,360.11 109.06,358.85 110.18,357.16 110.77,356.28 112.12,354.29 112.49,353.76 114.07,351.50 114.23,351.28 115.98,348.84 116.01,348.79 117.74,346.44 117.96,346.15 119.52,344.08 119.90,343.58 121.31,341.77 121.85,341.08 123.12,339.49 123.79,338.65 124.94,337.24 125.74,336.27 126.77,335.04 127.68,333.96 128.62,332.87 129.63,331.71 130.48,330.74 131.57,329.51 132.36,328.64 133.52,327.37 134.25,326.58 135.46,325.28 136.16,324.55 137.41,323.24 138.08,322.55 139.35,321.26 140.01,320.59 141.30,319.32 141.97,318.66 143.24,317.42 143.93,316.76 145.19,315.57 145.91,314.90 147.13,313.77 147.91,313.06 149.08,312.01 149.93,311.25 151.02,310.29 151.95,309.48 152.97,308.60 154.00,307.73 154.91,306.96 156.06,306.01 156.86,305.35 158.14,304.32 158.80,303.78 160.23,302.65 160.75,302.25 162.34,301.02 162.69,300.75 164.47,299.41 164.64,299.28 166.58,297.84 166.61,297.82 168.53,296.44 168.77,296.26 170.47,295.06 170.95,294.73 172.42,293.72 173.14,293.22 174.36,292.40 175.35,291.74 176.31,291.11 177.58,290.28 178.25,289.84 179.82,288.84 180.20,288.61 182.09,287.43 182.14,287.40 184.09,286.21 184.37,286.04 186.03,285.05 186.66,284.67 187.98,283.91 188.98,283.33 189.92,282.79 191.32,282.00 191.87,281.70 193.67,280.70 193.81,280.62 195.76,279.57 196.04,279.42 197.70,278.54 198.43,278.16 199.65,277.53 200.84,276.92 201.59,276.54 203.26,275.70 203.54,275.56 205.48,274.61 205.71,274.50 207.43,273.67 208.18,273.32 209.37,272.75 210.66,272.15 211.32,271.85 213.16,271.01 213.26,270.97 215.21,270.10 215.69,269.88 217.15,269.24 218.23,268.77 219.10,268.40 220.79,267.68 221.04,267.58 222.99,266.77 223.38,266.61 224.93,265.98 225.98,265.56 226.88,265.20 228.60,264.52 228.82,264.43 230.77,263.68 231.25,263.50 232.71,262.94 233.91,262.49 234.66,262.21 236.60,261.50" fill="none" stroke="#c81c38" stroke-width="1.3" stroke-linejoin="round"/>
<polyline points="63.50,460.50 64.85,459.40 65.44,458.92 66.22,458.29 67.39,457.32 67.59,457.15 68.98,456.01 69.33,455.71 70.37,454.84 71.28,454.08 71.78,453.66 73.20,452.45 73.22,452.43 74.63,451.23 75.17,450.77 76.07,450.00 77.11,449.09 77.52,448.74 78.98,447.46 79.06,447.40 80.46,446.17 81.00,445.69 81.94,444.86 82.95,443.96 83.44,443.52 84.89,442.22 84.95,442.17 86.47,440.80 86.84,440.46 88.00,439.40 88.78,438.69 89.55,437.99 90.73,436.90 91.11,436.55 92.67,435.10 92.68,435.09 94.26,433.62 94.62,433.28 95.85,432.11 96.56,431.44 97.46,430.59 98.51,429.59 99.08,429.05 100.45,427.72 100.71,427.48 102.35,425.88 102.40,425.84 104.01,424.27 104.34,423.94 105.68,422.63 106.29,422.03 107.36,420.96 108.23,420.10 109.06,419.28 110.18,418.16 110.77,417.56 112.12,416.20 112.49,415.82 114.07,414.22 114.23,414.06 115.98,412.27 116.01,412.23 117.74,410.45 117.96,410.23 119.52,408.61 119.90,408.21 121.31,406.74 121.85,406.18 123.12,404.84 123.79,404.13 124.94,402.92 125.74,402.06 126.77,400.96 127.68,399.98 128.62,398.98 129.63,397.89 130.48,396.97 131.57,395.78 132.36,394.93 133.52,393.66 134.25,392.86 135.46,391.52 136.16,390.76 137.41,389.37 138.08,388.63 139.35,387.20 140.01,386.46 141.30,385.02 141.97,384.27 143.24,382.83 143.93,382.05 145.19,380.62 145.91,379.79 147.13,378.39 147.91,377.50 149.08,376.15 149.93,375.17 151.02,373.90 151.95,372.82 152.97,371.64 154.00,370.43 154.91,369.35 156.06,368.00 156.86,367.06 158.14,365.54 158.80,364.75 160.23,363.05 160.75,362.43 162.34,360.51 162.69,360.09 164.47,357.95 164.64,357.74 166.58,355.38 166.61,355.34 168.53,353.00 168.77,352.70 170.47,350.61 170.95,350.02 172.42,348.20 173.14,347.30 174.36,345.78 175.35,344.55 176.31,343.35 177.58,341.75 178.25,340.90 179.82,338.92 180.20,338.44 182.09,336.04 182.14,335.97 184.09,333.48 184.37,333.13 186.03,330.98 186.66,330.17 187.98,328.47 188.98,327.17 189.92,325.95 191.32,324.13 191.87,323.41 193.67,321.04 193.81,320.85 195.76,318.29 196.04,317.91 197.70,315.71 198.43,314.74 199.65,313.12 200.84,311.53 201.59,310.52 203.26,308.26 203.54,307.90 205.48,305.27 205.71,304.96 207.43,302.63 208.18,301.60 209.37,299.97 210.66,298.20 211.32,297.30 213.16,294.76 213.26,294.62 215.21,291.93 215.69,291.26 217.15,289.23 218.23,287.72 219.10,286.51 220.79,284.12 221.04,283.78 222.99,281.04 223.38,280.48 224.93,278.28 225.98,276.79 226.88,275.51 228.60,273.04 228.82,272.74 230.77,269.95 231.25,269.25 232.71,267.14 233.91,265.40 234.66,264.33 236.60,261.50" fill="none" stroke="#2a2ad8" stroke-width="1.3" stroke-linejoin="round"/>
<polyline points="63.50,460.50 64.85,458.14 65.44,457.12 66.22,455.79 67.39,453.78 67.59,453.44 68.98,451.09 69.33,450.48 70.37,448.74 71.28,447.23 71.78,446.40 73.20,444.06 73.22,444.02 74.63,441.72 75.17,440.84 76.07,439.39 77.11,437.71 77.52,437.06 78.98,434.73 79.06,434.61 80.46,432.41 81.00,431.55 81.94,430.08 82.95,428.52 83.44,427.76 84.89,425.53 84.95,425.45 86.47,423.14 86.84,422.58 88.00,420.83 88.78,419.66 89.55,418.52 90.73,416.77 91.11,416.21 92.67,413.92 92.68,413.91 94.26,411.61 94.62,411.09 95.85,409.32 96.56,408.30 97.46,407.03 98.51,405.54 99.08,404.74 100.45,402.80 100.71,402.45 102.35,400.16 102.40,400.10 104.01,397.88 104.34,397.42 105.68,395.60 106.29,394.78 107.36,393.33 108.23,392.16 109.06,391.05 110.18,389.57 110.77,388.78 112.12,387.00 112.49,386.52 114.07,384.46 114.23,384.25 115.98,381.99 116.01,381.94 117.74,379.73 117.96,379.45 119.52,377.47 119.90,376.99 121.31,375.22 121.85,374.55 123.12,372.97 123.79,372.13 124.94,370.72 125.74,369.73 126.77,368.47 127.68,367.36 128.62,366.23 129.63,365.01 130.48,363.99 131.57,362.68 132.36,361.75 133.52,360.38 134.25,359.51 135.46,358.09 136.16,357.28 137.41,355.83 138.08,355.05 139.35,353.58 140.01,352.82 141.30,351.36 141.97,350.60 143.24,349.15 143.93,348.38 145.19,346.97 145.91,346.16 147.13,344.80 147.91,343.94 149.08,342.65 149.93,341.72 151.02,340.52 151.95,339.51 152.97,338.41 154.00,337.30 154.91,336.32 156.06,335.09 156.86,334.25 158.14,332.89 158.80,332.19 160.23,330.69 160.75,330.15 162.34,328.49 162.69,328.12 164.47,326.29 164.64,326.12 166.58,324.12 166.61,324.10 168.53,322.15 168.77,321.90 170.47,320.19 170.95,319.71 172.42,318.25 173.14,317.53 174.36,316.32 175.35,315.34 176.31,314.40 177.58,313.16 178.25,312.50 179.82,310.98 180.20,310.62 182.09,308.80 182.14,308.75 184.09,306.89 184.37,306.63 186.03,305.05 186.66,304.46 187.98,303.22 188.98,302.29 189.92,301.41 191.32,300.12 191.87,299.61 193.67,297.95 193.81,297.82 195.76,296.05 196.04,295.79 197.70,294.28 198.43,293.63 199.65,292.54 200.84,291.47 201.59,290.80 203.26,289.31 203.54,289.07 205.48,287.36 205.71,287.16 207.43,285.66 208.18,285.01 209.37,283.97 210.66,282.86 211.32,282.30 213.16,280.71 213.26,280.63 215.21,278.98 215.69,278.57 217.15,277.34 218.23,276.43 219.10,275.71 220.79,274.29 221.04,274.08 222.99,272.48 223.38,272.15 224.93,270.88 225.98,270.02 226.88,269.29 228.60,267.88 228.82,267.71 230.77,266.14 231.25,265.75 232.71,264.59 233.91,263.63 234.66,263.04 236.60,261.50" fill="none" stroke="#181818" stroke-width="1.3" stroke-linejoin="round"/>
<line x1="378.88" y1="261.50" x2="378.88" y2="460.50" stroke="#f3f3f3" stroke-width="1"/>
<line x1="413.76" y1="261.50" x2="413.76" y2="460.50" stroke="#f3f3f3" stroke-width="1"/>
<line x1="448.64" y1="261.50" x2="448.64" y2="460.50" stroke="#f3f3f3" stroke-width="1"/>
<line x1="483.52" y1="261.50" x2="483.52" y2="460.50" stroke="#f3f3f3" stroke-width="1"/>
<line x1="518.40" y1="261.50" x2="518.40" y2="460.50" stroke="#f3f3f3" stroke-width="1"/>
<line x1="343.20" y1="451.50" x2="518.40" y2="451.50" stroke="#f3f3f3" stroke-width="1"/>
<line x1="343.20" y1="431.50" x2="518.40" y2="431.50" stroke="#f3f3f3" stroke-width="1"/>
<line x1="343.20" y1="411.50" x2="518.40" y2="411.50" stroke="#f3f3f3" stroke-width="1"/>
<line x1="343.20" y1="391.50" x2="518.40" y2="391.50" stroke="#f3f3f3" stroke-width="1"/>
<line x1="343.20" y1="371.50" x2="518.40" y2="371.50" stroke="#f3f3f3" stroke-width="1"/>
<line x1="343.20" y1="351.50" x2="518.40" y2="351.50" stroke="#f3f3f3" stroke-width="1"/>
<line x1="343.20" y1="331.50" x2="518.40" y2="331.50" stroke="#f3f3f3" stroke-width="1"/>
<line x1="343.20" y1="311.50" x2="518.40" y2="311.50" stroke="#f3f3f3" stroke-width="1"/>
<line x1="343.20" y1="291.50" x2="518.40" y2="291.50" stroke="#f3f3f3" stroke-width="1"/>
<line x1="343.20" y1="271.50" x2="518.40" y2="271.50" stroke="#f3f3f3" stroke-width="1"/>
<line x1="361.44" y1="261.50" x2="361.44" y2="460.50" stroke="#c9c9c9" stroke-width="1"/>
<line x1="396.32" y1="261.50" x2="396.32" y2="460.50" stroke="#c9c9c9" stroke-width="1"/>
<line x1="431.20" y1="261.50" x2="431.20" y2="460.50" stroke="#c9c9c9" stroke-width="1"/>
<line x1="466.08" y1="261.50" x2="466.08" y2="460.50" stroke="#c9c9c9" stroke-width="1"/>
<line x1="500.96" y1="261.50" x2="500.96" y2="460.50" stroke="#c9c9c9" stroke-width="1"/>
<line x1="343.20" y1="441.50" x2="518.40" y2="441.50" stroke="#c9c9c9" stroke-width="1"/>
<line x1="343.20" y1="421.50" x2="518.40" y2="421.50" stroke="#c9c9c9" stroke-width="1"/>
<line x1="343.20" y1="401.50" x2="518.40" y2="401.50" stroke="#c9c9c9" stroke-width="1"/>
<line x1="343.20" y1="381.50" x2="518.40" y2="381.50" stroke="#c9c9c9" stroke-width="1"/>
<line x1="343.20" y1="361.50" x2="518.40" y2="361.50" stroke="#c9c9c9" stroke-width="1"/>
<line x1="343.20" y1="341.50" x2="518.40" y2="341.50" stroke="#c9c9c9" stroke-width="1"/>
<line x1="343.20" y1="321.50" x2="518.40" y2="321.50" stroke="#c9c9c9" stroke-width="1"/>
<line x1="343.20" y1="301.50" x2="518.40" y2="301.50" stroke="#c9c9c9" stroke-width="1"/>
<line x1="343.20" y1="281.50" x2="518.40" y2="281.50" stroke="#c9c9c9" stroke-width="1"/>
<line x1="343.20" y1="261.50" x2="518.40" y2="261.50" stroke="#c9c9c9" stroke-width="1"/>
<line x1="343.20" y1="261.00" x2="343.20" y2="461.00" stroke="#484848" stroke-width="1"/>
<line x1="342.70" y1="460.50" x2="518.90" y2="460.50" stroke="#484848" stroke-width="1"/>
<line x1="340.60" y1="441.50" x2="343.20" y2="441.50" stroke="#484848" stroke-width="1"/>
<text x="339.40" y="443.80" text-anchor="end" class="tk">0.91</text>
<line x1="341.60" y1="451.50" x2="343.20" y2="451.50" stroke="#484848" stroke-width="0.7"/>
<line x1="340.60" y1="421.50" x2="343.20" y2="421.50" stroke="#484848" stroke-width="1"/>
<text x="339.40" y="423.80" text-anchor="end" class="tk">0.92</text>
<line x1="341.60" y1="431.50" x2="343.20" y2="431.50" stroke="#484848" stroke-width="0.7"/>
<line x1="340.60" y1="401.50" x2="343.20" y2="401.50" stroke="#484848" stroke-width="1"/>
<text x="339.40" y="403.80" text-anchor="end" class="tk">0.93</text>
<line x1="341.60" y1="411.50" x2="343.20" y2="411.50" stroke="#484848" stroke-width="0.7"/>
<line x1="340.60" y1="381.50" x2="343.20" y2="381.50" stroke="#484848" stroke-width="1"/>
<text x="339.40" y="383.80" text-anchor="end" class="tk">0.94</text>
<line x1="341.60" y1="391.50" x2="343.20" y2="391.50" stroke="#484848" stroke-width="0.7"/>
<line x1="340.60" y1="361.50" x2="343.20" y2="361.50" stroke="#484848" stroke-width="1"/>
<text x="339.40" y="363.80" text-anchor="end" class="tk">0.95</text>
<line x1="341.60" y1="371.50" x2="343.20" y2="371.50" stroke="#484848" stroke-width="0.7"/>
<line x1="340.60" y1="341.50" x2="343.20" y2="341.50" stroke="#484848" stroke-width="1"/>
<text x="339.40" y="343.80" text-anchor="end" class="tk">0.96</text>
<line x1="341.60" y1="351.50" x2="343.20" y2="351.50" stroke="#484848" stroke-width="0.7"/>
<line x1="340.60" y1="321.50" x2="343.20" y2="321.50" stroke="#484848" stroke-width="1"/>
<text x="339.40" y="323.80" text-anchor="end" class="tk">0.97</text>
<line x1="341.60" y1="331.50" x2="343.20" y2="331.50" stroke="#484848" stroke-width="0.7"/>
<line x1="340.60" y1="301.50" x2="343.20" y2="301.50" stroke="#484848" stroke-width="1"/>
<text x="339.40" y="303.80" text-anchor="end" class="tk">0.98</text>
<line x1="341.60" y1="311.50" x2="343.20" y2="311.50" stroke="#484848" stroke-width="0.7"/>
<line x1="340.60" y1="281.50" x2="343.20" y2="281.50" stroke="#484848" stroke-width="1"/>
<text x="339.40" y="283.80" text-anchor="end" class="tk">0.99</text>
<line x1="341.60" y1="291.50" x2="343.20" y2="291.50" stroke="#484848" stroke-width="0.7"/>
<line x1="340.60" y1="261.50" x2="343.20" y2="261.50" stroke="#484848" stroke-width="1"/>
<text x="339.40" y="263.80" text-anchor="end" class="tk">1</text>
<line x1="341.60" y1="271.50" x2="343.20" y2="271.50" stroke="#484848" stroke-width="0.7"/>
<line x1="361.44" y1="460.50" x2="361.44" y2="463.00" stroke="#484848" stroke-width="1"/>
<text x="361.44" y="470.30" text-anchor="middle" class="tk">0.2</text>
<line x1="396.32" y1="460.50" x2="396.32" y2="463.00" stroke="#484848" stroke-width="1"/>
<text x="396.32" y="470.30" text-anchor="middle" class="tk">0.4</text>
<line x1="431.20" y1="460.50" x2="431.20" y2="463.00" stroke="#484848" stroke-width="1"/>
<text x="431.20" y="470.30" text-anchor="middle" class="tk">0.6</text>
<line x1="466.08" y1="460.50" x2="466.08" y2="463.00" stroke="#484848" stroke-width="1"/>
<text x="466.08" y="470.30" text-anchor="middle" class="tk">0.8</text>
<line x1="500.96" y1="460.50" x2="500.96" y2="463.00" stroke="#484848" stroke-width="1"/>
<text x="500.96" y="470.30" text-anchor="middle" class="tk">1.0</text>
<line x1="378.88" y1="460.50" x2="378.88" y2="462.00" stroke="#484848" stroke-width="0.7"/>
<line x1="413.76" y1="460.50" x2="413.76" y2="462.00" stroke="#484848" stroke-width="0.7"/>
<line x1="448.64" y1="460.50" x2="448.64" y2="462.00" stroke="#484848" stroke-width="0.7"/>
<line x1="483.52" y1="460.50" x2="483.52" y2="462.00" stroke="#484848" stroke-width="0.7"/>
<text x="281.60" y="363.50" class="lb">scaled p</text>
<text x="431.20" y="478.70" text-anchor="middle" class="lb">r</text>
<text x="492.00" y="447.40" class="pl">d)</text>
<polyline points="344.00,460.50 344.48,457.95 344.97,455.40 345.47,452.86 345.96,450.44 345.98,450.32 346.51,447.79 347.06,445.25 347.62,442.73 347.92,441.40 348.19,440.20 348.79,437.68 349.39,435.16 349.88,433.20 350.02,432.65 350.66,430.14 351.31,427.63 351.84,425.68 351.99,425.12 352.69,422.62 353.40,420.13 353.80,418.76 354.13,417.63 354.88,415.14 355.66,412.65 355.76,412.34 356.45,410.17 357.27,407.69 357.72,406.36 358.11,405.21 358.97,402.74 359.68,400.76 359.85,400.27 360.76,397.80 361.64,395.50 361.70,395.34 362.66,392.87 363.60,390.53 363.64,390.42 364.66,387.96 365.56,385.84 365.70,385.51 366.76,383.06 367.51,381.39 367.86,380.62 368.99,378.18 369.47,377.15 370.15,375.74 371.34,373.30 371.43,373.11 372.56,370.87 373.39,369.26 373.82,368.44 375.11,366.01 375.35,365.57 376.44,363.59 377.31,362.03 377.80,361.17 379.20,358.76 379.27,358.63 380.63,356.34 381.23,355.36 382.11,353.93 383.19,352.21 383.63,351.52 385.15,349.17 385.19,349.12 386.79,346.72 387.11,346.24 388.43,344.32 389.07,343.41 390.12,341.92 391.03,340.66 391.86,339.53 392.99,338.01 393.64,337.14 394.95,335.43 395.47,334.75 396.91,332.93 397.35,332.37 398.87,330.50 399.29,329.99 400.83,328.14 401.27,327.61 402.79,325.85 403.31,325.24 404.75,323.61 405.04,323.28 405.41,323.24 406.71,323.10 407.56,323.00 408.67,322.88 409.78,322.76 410.62,322.68 412.05,322.53 412.58,322.47 414.38,322.29 414.54,322.27 416.50,322.08 416.78,322.05 418.46,321.89 419.25,321.82 420.42,321.71 421.78,321.58 422.38,321.52 422.48,321.51 424.34,319.83 424.38,319.79 426.30,318.08 427.05,317.43 428.26,316.38 429.79,315.07 430.22,314.70 432.18,313.06 432.61,312.71 434.14,311.46 435.51,310.35 436.10,309.88 438.06,308.33 438.48,308.00 440.02,306.81 441.54,305.65 441.98,305.31 443.94,303.85 444.68,303.30 445.90,302.40 447.86,300.99 447.90,300.95 449.82,299.59 451.22,298.61 451.78,298.22 453.73,296.87 454.62,296.27 455.69,295.55 457.65,294.24 458.12,293.93 459.61,292.95 461.57,291.69 461.71,291.60 463.53,290.44 465.40,289.27 465.49,289.21 467.45,288.00 469.20,286.94 469.41,286.81 471.37,285.63 473.09,284.61 473.33,284.47 475.29,283.33 477.09,282.29 477.25,282.20 479.21,281.09 481.17,279.99 481.20,279.97 483.13,278.90 485.09,277.83 485.43,277.65 487.05,276.78 489.01,275.73 489.76,275.33 490.97,274.70 492.93,273.69 494.22,273.02 494.89,272.68 496.84,271.69 498.80,270.71 498.80,270.71 500.76,269.74 502.72,268.78 503.50,268.41 504.68,267.84 506.64,266.90 508.34,266.10 508.60,265.98 510.56,265.06 512.52,264.16 513.30,263.80 514.48,263.26 516.44,262.38 518.40,261.50" fill="none" stroke="#c81c38" stroke-width="1.3" stroke-linejoin="round"/>
<polyline points="344.00,460.50 344.48,459.15 344.97,457.81 345.47,456.47 345.96,455.19 345.98,455.12 346.51,453.78 347.06,452.44 347.62,451.10 347.92,450.40 348.19,449.77 348.79,448.43 349.39,447.09 349.88,446.05 350.02,445.76 350.66,444.42 351.31,443.09 351.84,442.05 351.99,441.76 352.69,440.42 353.40,439.09 353.80,438.37 354.13,437.76 354.88,436.44 355.66,435.11 355.76,434.94 356.45,433.78 357.27,432.46 357.72,431.74 358.11,431.13 358.97,429.81 359.68,428.75 359.85,428.48 360.76,427.16 361.64,425.93 361.70,425.84 362.66,424.52 363.60,423.27 363.64,423.20 364.66,421.88 365.56,420.74 365.70,420.57 366.76,419.25 367.51,418.35 367.86,417.94 368.99,416.62 369.47,416.07 370.15,415.31 371.34,414.00 371.43,413.89 372.56,412.68 373.39,411.81 373.82,411.37 375.11,410.06 375.35,409.82 376.44,408.76 377.31,407.91 377.80,407.45 379.20,406.14 379.27,406.07 380.63,404.84 381.23,404.30 382.11,403.53 383.19,402.60 383.63,402.23 385.15,400.95 385.19,400.92 386.79,399.62 387.11,399.36 388.43,398.32 389.07,397.82 390.12,397.02 391.03,396.33 391.86,395.72 392.99,394.89 393.64,394.42 394.95,393.49 395.47,393.12 396.91,392.13 397.35,391.83 398.87,390.81 399.29,390.53 400.83,389.52 401.27,389.23 402.79,388.27 403.31,387.94 404.75,387.05 405.04,386.87 405.41,384.61 406.71,376.82 407.56,371.74 408.67,365.33 409.78,358.96 410.62,354.17 412.05,346.26 412.58,343.33 414.38,333.65 414.54,332.80 416.50,322.55 416.78,321.12 418.46,312.57 419.25,308.67 420.42,302.86 421.78,296.29 422.38,293.39 422.48,292.93 424.34,292.05 424.38,292.03 426.30,291.14 427.05,290.80 428.26,290.25 429.79,289.57 430.22,289.38 432.18,288.53 432.61,288.34 434.14,287.69 435.51,287.11 436.10,286.87 438.06,286.06 438.48,285.89 440.02,285.27 441.54,284.66 441.98,284.49 443.94,283.72 444.68,283.43 445.90,282.97 447.86,282.23 447.90,282.21 449.82,281.50 451.22,280.99 451.78,280.78 453.73,280.08 454.62,279.76 455.69,279.38 457.65,278.70 458.12,278.54 459.61,278.03 461.57,277.36 461.71,277.32 463.53,276.71 465.40,276.10 465.49,276.07 467.45,275.43 469.20,274.88 469.41,274.81 471.37,274.19 473.09,273.66 473.33,273.58 475.29,272.98 477.09,272.44 477.25,272.39 479.21,271.81 481.17,271.23 481.20,271.22 483.13,270.66 485.09,270.10 485.43,270.00 487.05,269.54 489.01,269.00 489.76,268.78 490.97,268.45 492.93,267.92 494.22,267.57 494.89,267.39 496.84,266.87 498.80,266.35 498.80,266.35 500.76,265.84 502.72,265.34 503.50,265.14 504.68,264.84 506.64,264.35 508.34,263.93 508.60,263.86 510.56,263.38 512.52,262.90 513.30,262.71 514.48,262.43 516.44,261.96 518.40,261.50" fill="none" stroke="#2a2ad8" stroke-width="1.3" stroke-linejoin="round"/>
<polyline points="344.00,460.50 344.48,458.14 344.97,455.79 345.47,453.44 345.96,451.20 345.98,451.09 346.51,448.74 347.06,446.40 347.62,444.06 347.92,442.83 348.19,441.72 348.79,439.39 349.39,437.06 349.88,435.24 350.02,434.73 350.66,432.41 351.31,430.08 351.84,428.28 351.99,427.76 352.69,425.45 353.40,423.14 353.80,421.87 354.13,420.83 354.88,418.52 355.66,416.21 355.76,415.92 356.45,413.91 357.27,411.61 357.72,410.38 358.11,409.32 358.97,407.03 359.68,405.19 359.85,404.74 360.76,402.45 361.64,400.31 361.70,400.16 362.66,397.88 363.60,395.71 363.64,395.60 364.66,393.33 365.56,391.36 365.70,391.05 366.76,388.78 367.51,387.23 367.86,386.52 368.99,384.25 369.47,383.30 370.15,381.99 371.34,379.73 371.43,379.55 372.56,377.47 373.39,375.98 373.82,375.22 375.11,372.97 375.35,372.55 376.44,370.72 377.31,369.26 377.80,368.47 379.20,366.23 379.27,366.11 380.63,363.99 381.23,363.07 382.11,361.75 383.19,360.15 383.63,359.51 385.15,357.33 385.19,357.28 386.79,355.05 387.11,354.61 388.43,352.82 389.07,351.98 390.12,350.60 391.03,349.43 391.86,348.38 392.99,346.96 393.64,346.16 394.95,344.57 395.47,343.94 396.91,342.24 397.35,341.72 398.87,339.99 399.29,339.51 400.83,337.79 401.27,337.30 402.79,335.66 403.31,335.09 404.75,333.58 405.04,333.28 405.41,332.89 406.71,331.56 407.56,330.69 408.67,329.58 409.78,328.49 410.62,327.66 412.05,326.29 412.58,325.78 414.38,324.10 414.54,323.95 416.50,322.16 416.78,321.90 418.46,320.40 419.25,319.71 420.42,318.69 421.78,317.53 422.38,317.01 422.48,316.93 424.34,315.37 424.38,315.34 426.30,313.76 427.05,313.16 428.26,312.19 429.79,310.98 430.22,310.65 432.18,309.13 432.61,308.80 434.14,307.65 435.51,306.63 436.10,306.19 438.06,304.76 438.48,304.46 440.02,303.36 441.54,302.29 441.98,301.98 443.94,300.62 444.68,300.12 445.90,299.29 447.86,297.98 447.90,297.95 449.82,296.70 451.22,295.79 451.78,295.43 453.73,294.19 454.62,293.63 455.69,292.96 457.65,291.75 458.12,291.47 459.61,290.57 461.57,289.40 461.71,289.31 463.53,288.25 465.40,287.16 465.49,287.11 467.45,285.99 469.20,285.01 469.41,284.89 471.37,283.80 473.09,282.86 473.33,282.73 475.29,281.67 477.09,280.71 477.25,280.63 479.21,279.60 481.17,278.59 481.20,278.57 483.13,277.59 485.09,276.60 485.43,276.43 487.05,275.62 489.01,274.66 489.76,274.29 490.97,273.71 492.93,272.77 494.22,272.15 494.89,271.84 496.84,270.92 498.80,270.02 498.80,270.02 500.76,269.12 502.72,268.23 503.50,267.88 504.68,267.36 506.64,266.49 508.34,265.75 508.60,265.64 510.56,264.79 512.52,263.96 513.30,263.63 514.48,263.13 516.44,262.31 518.40,261.50" fill="none" stroke="#181818" stroke-width="1.3" stroke-linejoin="round"/>
<rect x="36.5" y="226.6" width="163.3" height="13.1" fill="#fff" stroke="#707070" stroke-width="1.1"/>
<line x1="38.7" y1="233.35" x2="55" y2="233.35" stroke="#c81c38" stroke-width="1.2"/>
<line x1="81.5" y1="233.35" x2="98" y2="233.35" stroke="#2a2ad8" stroke-width="1.2"/>
<line x1="131.4" y1="233.35" x2="147.6" y2="233.35" stroke="#181818" stroke-width="1.2"/>
<text x="61.7" y="236.3" class="lg sym" text-anchor="middle">λ</text>
<text x="68.3" y="236.3" class="lg" text-anchor="middle">=</text>
<text x="75.2" y="236.3" class="lg" text-anchor="middle">2</text>
<text x="104.9" y="236.3" class="lg sym" text-anchor="middle">λ</text>
<text x="111.4" y="236.3" class="lg" text-anchor="middle">=</text>
<text x="118.9" y="236.3" class="lg mn" text-anchor="middle">-</text>
<text x="124.8" y="236.3" class="lg" text-anchor="middle">2</text>
<text x="151.7" y="236.3" class="lg it" text-anchor="start">constant k</text>
<rect x="296" y="229.7" width="204.4" height="10.0" fill="#fff" stroke="#707070" stroke-width="1.1"/>
<line x1="298.5" y1="234.90" x2="313.8" y2="234.90" stroke="#181818" stroke-width="1.2"/>
<line x1="368" y1="234.90" x2="384" y2="234.90" stroke="#98e868" stroke-width="1.2"/>
<line x1="448.5" y1="234.90" x2="463.5" y2="234.90" stroke="#f2b8c6" stroke-width="1.2" stroke-dasharray="4 3"/>
<text x="319" y="237.75" class="lg it" text-anchor="start">constant k</text>
<text x="388.8" y="237.75" class="lg it" text-anchor="start">half pressure</text>
<text x="468.5" y="237.75" class="lg it" text-anchor="start">scaled</text>
</svg>
</body></html>
